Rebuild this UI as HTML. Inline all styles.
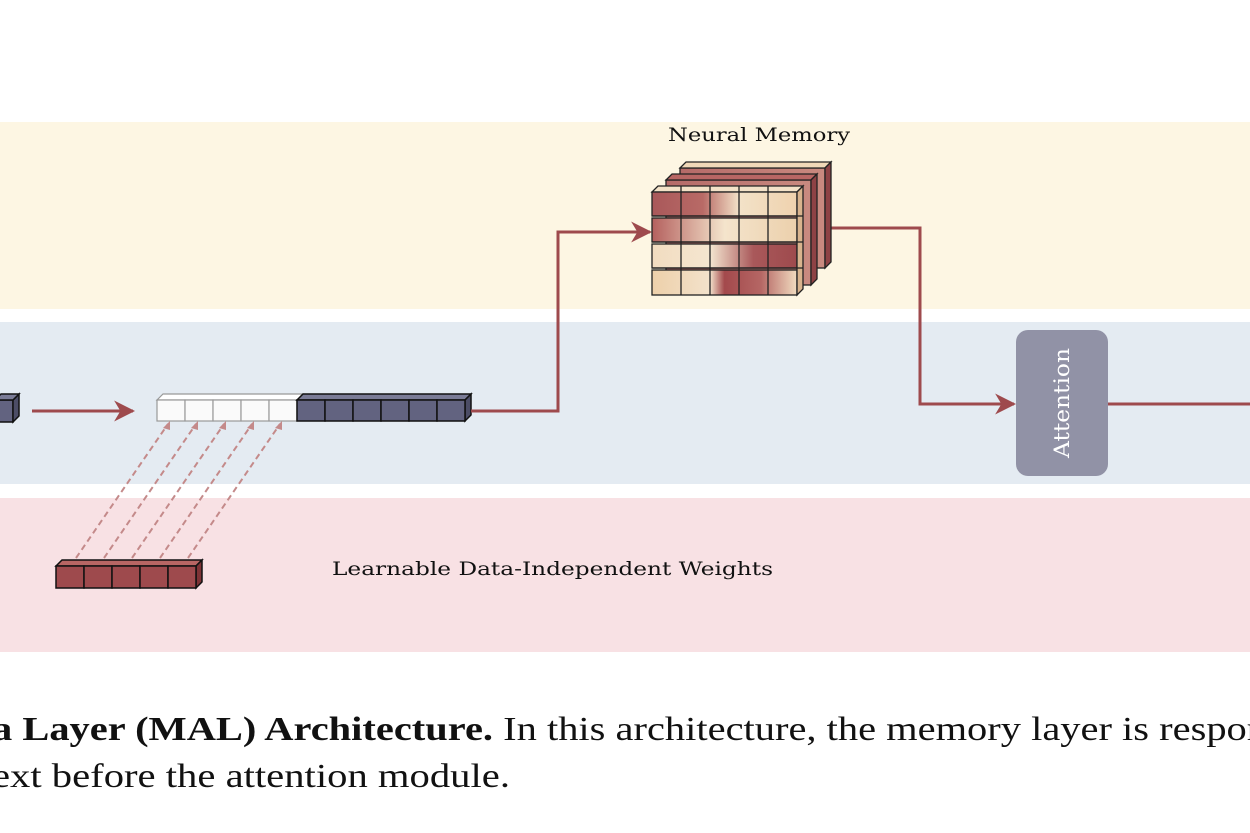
<!DOCTYPE html>
<html><head><meta charset="utf-8"><style>
html,body{margin:0;padding:0;background:#fff;}
body{width:1250px;height:833px;overflow:hidden;position:relative;}
</style></head><body>
<svg width="1250" height="833" viewBox="0 0 1250 833" style="position:absolute;left:0;top:0">
<defs>
<linearGradient id="rowA" x1="0" x2="1"><stop offset="0" stop-color="#a9585a"/><stop offset="0.35" stop-color="#b86a66"/><stop offset="0.6" stop-color="#f3e2c8"/><stop offset="1" stop-color="#efd2ae"/></linearGradient>
<linearGradient id="rowB" x1="0" x2="1"><stop offset="0" stop-color="#b4605e"/><stop offset="0.5" stop-color="#f4e4cc"/><stop offset="1" stop-color="#ecd0ac"/></linearGradient>
<linearGradient id="rowC" x1="0" x2="1"><stop offset="0" stop-color="#f2dcc0"/><stop offset="0.4" stop-color="#f4e6d0"/><stop offset="0.7" stop-color="#a9585a"/><stop offset="1" stop-color="#9e4a4d"/></linearGradient>
<linearGradient id="rowD" x1="0" x2="1"><stop offset="0" stop-color="#edd0aa"/><stop offset="0.4" stop-color="#f3e2cb"/><stop offset="0.5" stop-color="#a3494c"/><stop offset="0.75" stop-color="#b56664"/><stop offset="1" stop-color="#f1dcc0"/></linearGradient>
<linearGradient id="back" x1="0" x2="1"><stop offset="0" stop-color="#b56a68"/><stop offset="1" stop-color="#c98a80"/></linearGradient>
<marker id="ah" viewBox="0 0 10 10" refX="9" refY="5" markerWidth="7" markerHeight="7" orient="auto"><path d="M0,0 L10,5 L0,10 L3,5 Z" fill="#9e4a4d"/></marker>
</defs>
<rect x="0" y="122" width="1250" height="187" fill="#fdf6e3"/>
<rect x="0" y="322" width="1250" height="162" fill="#e4ebf2"/>
<rect x="0" y="498" width="1250" height="154" fill="#f8e1e4"/>

<rect x="-5" y="400" width="18" height="22" fill="#626380" stroke="#111" stroke-width="1.5"/>
<polygon points="13,400 19,394 19,416 13,422" fill="#4c4d66" stroke="#111" stroke-width="1.5"/>
<polygon points="-5,400 1,394 19,394 13,400" fill="#7a7b96" stroke="#111" stroke-width="1.5"/>
<line x1="32" y1="411" x2="133" y2="411" stroke="#9e4a4d" stroke-width="3" marker-end="url(#ah)"/>

<g stroke="#999" stroke-width="1.2" fill="#fafafa">
<polygon points="157,400 163,394 303,394 297,400" fill="#fff"/>
<rect x="157" y="400" width="28" height="21"/><rect x="185" y="400" width="28" height="21"/><rect x="213" y="400" width="28" height="21"/><rect x="241" y="400" width="28" height="21"/><rect x="269" y="400" width="28" height="21"/>
</g>
<g stroke="#111" stroke-width="1.5">
<polygon points="297,400 303,394 471,394 465,400" fill="#7a7b96"/>
<polygon points="465,400 471,394 471,415 465,421" fill="#4c4d66"/>
<g fill="#626380"><rect x="297" y="400" width="28" height="21"/><rect x="325" y="400" width="28" height="21"/><rect x="353" y="400" width="28" height="21"/><rect x="381" y="400" width="28" height="21"/><rect x="409" y="400" width="28" height="21"/><rect x="437" y="400" width="28" height="21"/></g>
</g>

<g stroke="#c48a8a" stroke-width="2" stroke-dasharray="6,4" fill="none">
<line x1="76" y1="558" x2="168" y2="424"/><line x1="104" y1="558" x2="196" y2="424"/><line x1="132" y1="558" x2="224" y2="424"/><line x1="160" y1="558" x2="252" y2="424"/><line x1="188" y1="558" x2="280" y2="424"/>
</g>
<g fill="#c48a8a"><polygon points="170,421 163,428 170,430"/><polygon points="198,421 191,428 198,430"/><polygon points="226,421 219,428 226,430"/><polygon points="254,421 247,428 254,430"/><polygon points="282,421 275,428 282,430"/></g>

<g stroke="#111" stroke-width="1.5">
<polygon points="56,566 62,560 202,560 196,566" fill="#b86664"/>
<polygon points="196,566 202,560 202,582 196,588" fill="#7e3336"/>
<g fill="#9e4a4d"><rect x="56" y="566" width="28" height="22"/><rect x="84" y="566" width="28" height="22"/><rect x="112" y="566" width="28" height="22"/><rect x="140" y="566" width="28" height="22"/><rect x="168" y="566" width="28" height="22"/></g>
</g>

<polyline points="471,411 558,411 558,232 650,232" fill="none" stroke="#9e4a4d" stroke-width="3" marker-end="url(#ah)"/>
<polyline points="826,228 920,228 920,404 1014,404" fill="none" stroke="#9e4a4d" stroke-width="3" marker-end="url(#ah)"/>
<line x1="1108" y1="404" x2="1250" y2="404" stroke="#9e4a4d" stroke-width="3"/>

<text x="668" y="141" font-family="DejaVu Serif,serif" font-size="19" textLength="182" lengthAdjust="spacingAndGlyphs" fill="#111">Neural Memory</text>
<g stroke="#222" stroke-width="1.3">
<rect x="680" y="168" width="145" height="100" fill="url(#back)"/>
<polygon points="680,168 686,162 831,162 825,168" fill="#f0d8b8"/>
<polygon points="825,168 831,162 831,262 825,268" fill="#8e4245"/>
<rect x="666" y="180" width="145" height="105" fill="url(#back)"/>
<polygon points="666,180 672,174 817,174 811,180" fill="#b86664"/>
<polygon points="811,180 817,174 817,279 811,285" fill="#8e4245"/>
<polygon points="652,192 658,186 803,186 797,192" fill="#f3e2c8"/>
<rect x="652" y="192" width="145" height="24" fill="url(#rowA)"/>
<rect x="652" y="218" width="145" height="24" fill="url(#rowB)"/>
<rect x="652" y="244" width="145" height="24" fill="url(#rowC)"/>
<rect x="652" y="270" width="145" height="25" fill="url(#rowD)"/>
<polygon points="797,192 803,186 803,289 797,295" fill="#d9b48e"/>
<g fill="none"><line x1="681" y1="186" x2="681" y2="295"/><line x1="710" y1="186" x2="710" y2="295"/><line x1="739" y1="186" x2="739" y2="295"/><line x1="768" y1="186" x2="768" y2="295"/>
<line x1="652" y1="216" x2="803" y2="216"/><line x1="652" y1="242" x2="803" y2="242"/><line x1="652" y1="268" x2="803" y2="268"/></g>
</g>

<rect x="1016" y="330" width="92" height="146" rx="12" fill="#9192a6"/>
<text transform="translate(1069,458) rotate(-90)" font-family="DejaVu Serif,serif" font-size="21" fill="#fff" textLength="110" lengthAdjust="spacingAndGlyphs">Attention</text>

<text x="332" y="575" font-family="DejaVu Serif,serif" font-size="19" textLength="441" lengthAdjust="spacingAndGlyphs" fill="#111">Learnable Data-Independent Weights</text>

<text x="-8" y="740" font-family="Liberation Serif,serif" font-size="34" fill="#111" textLength="1275" lengthAdjust="spacingAndGlyphs"><tspan font-weight="bold">a Layer (MAL) Architecture.</tspan> In this architecture, the memory layer is respon</text>
<text x="-8" y="787" font-family="Liberation Serif,serif" font-size="34" fill="#111" textLength="518" lengthAdjust="spacingAndGlyphs">ext before the attention module.</text>
</svg>
</body></html>
